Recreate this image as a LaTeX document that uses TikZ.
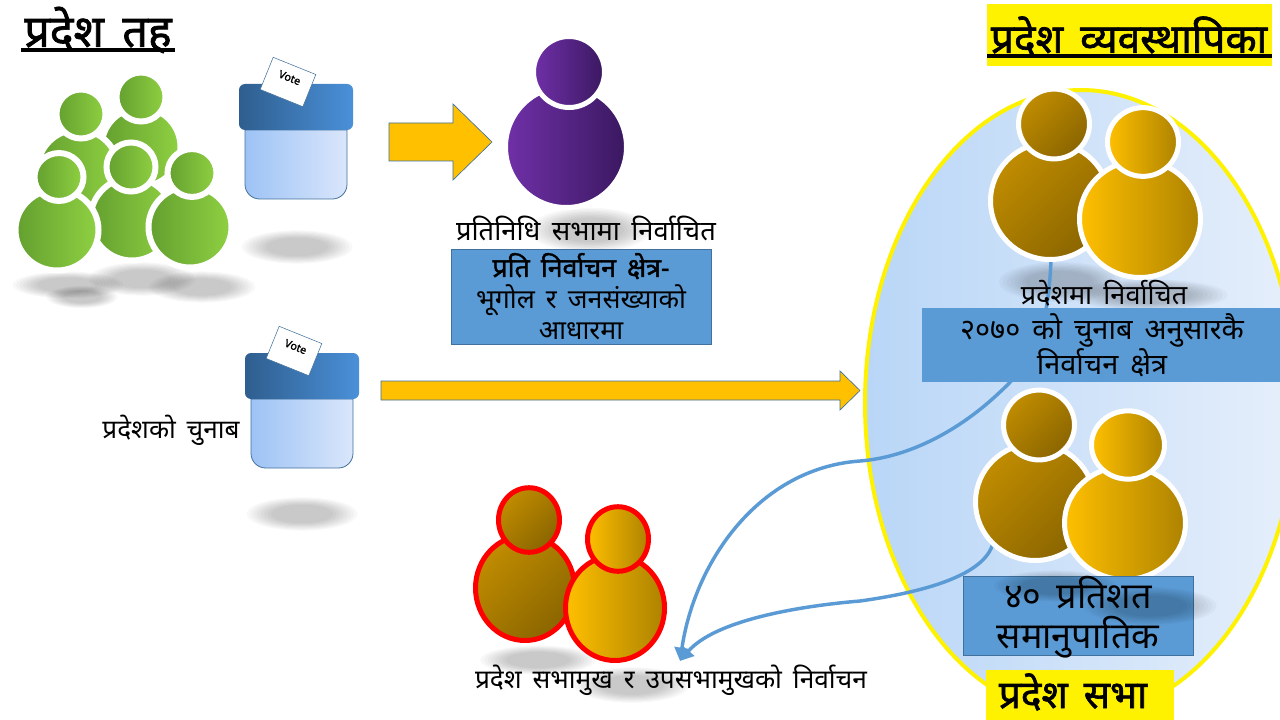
\documentclass[tikz,border=0pt]{standalone}
\usepackage{fontspec}
\setmainfont[Script=Devanagari,WordSpace=1.6,AutoFakeBold=1.6]{Noto Sans}
\usepackage{tikz}
\usetikzlibrary{arrows.meta}

\definecolor{boxblue}{HTML}{5B9BD5}
\definecolor{edgeblue}{HTML}{41719C}
\definecolor{sunny}{HTML}{FFC000}
\definecolor{leafdark}{HTML}{639F2F}
\definecolor{leaflight}{HTML}{8FD142}
\definecolor{plumlight}{HTML}{7030A8}
\definecolor{plumdark}{HTML}{3A1860}
\definecolor{golddark}{HTML}{C08C00}
\definecolor{goldmid}{HTML}{8A6500}
\definecolor{goldend}{HTML}{AD8200}
\definecolor{lidleft}{HTML}{2F5E8E}
\definecolor{lidright}{HTML}{4A90D9}
\definecolor{binleft}{HTML}{9DC3F5}
\definecolor{binright}{HTML}{DAE6FB}
\definecolor{ovalleft}{HTML}{B9D6F7}
\definecolor{ovalright}{HTML}{E6EFFB}

\tikzset{
  greenman/.style={left color=leafdark,right color=leaflight,draw=white,line width=4.5pt},
  purpleman/.style={left color=plumlight,right color=plumdark,draw=white,line width=3.75pt},
  darkman/.style={top color=golddark,bottom color=goldmid,shading angle=45,draw=#1,line width=3.75pt},
  lightman/.style={left color=sunny,right color=goldend,draw=#1,line width=3.75pt},
  tag/.style={fill=boxblue,align=center,inner sep=0pt},
  yellowbar/.style={fill=yellow,inner sep=0pt},
  votecard/.style={draw=edgeblue,fill=white,rotate=-22,minimum width=34.5pt,minimum height=26pt,inner sep=0pt,font=\fontsize{8}{8}\selectfont\bfseries},
  bigarrow/.style={fill=sunny,draw=edgeblue,line width=.5pt},
  link/.style={draw=boxblue,line width=2.6pt}
}

\newcommand{\softshadow}[4]{
  \foreach \k in {1,...,8}
    \fill [black,opacity=.026] (#1,#2) ellipse [x radius={#3*(.55+.07*\k)},y radius={#4*(.55+.07*\k)}];
}
\newcommand{\person}[8]{
  \path [#1] (#5,#6) ellipse [x radius={#7+2.5},y radius={#8+2.5}];
  \path [#1] (#2,#3) ellipse [x radius={#4+2.5},y radius={#4*#8/#7+2.5}];
}
\newcommand{\votebox}[3]{
  \begin{scope}[shift={(#2,#3)}]
    \path [left color=binleft,right color=binright,draw=edgeblue,line width=.6pt]
      (6,46) [rounded corners=11pt] -- (6,115) -- (108,115) [sharp corners] -- (108,46) -- cycle;
    \path [left color=lidleft,right color=lidright,rounded corners=4.5pt] (0,0) rectangle (114,46);
    \node [votecard] (#1) at (49,-2) {\raisebox{7pt}{Vote}};
  \end{scope}
}

\begin{document}
\begin{tikzpicture}
  [x=.75pt,y=-.75pt]
  \clip (0,0) rectangle (1280,720);
  \fill [white] (0,0) rectangle (1280,720);

  \foreach \x/\y/\rx/\ry in {68/285/50/12,82/297/32/10,142/279/48/15,202/287/48/14,
      297/247/50/15,302/514/50/15,590/230/55/20,538/660/52/13,632/685/52/16}
    {\softshadow{\x}{\y}{\rx}{\ry}}

  \person{greenman}{141}{97}{22}{141}{147}{37}{37}
  \person{greenman}{81}{114}{22}{78}{170}{38}{38}
  \person{greenman}{131}{167}{22}{132}{219}{39}{39}
  \person{greenman}{59}{177}{22}{57}{230}{39}{38}
  \person{greenman}{192}{173}{22}{190}{227}{39}{38}

  \votebox{card1}{239}{84}
  \votebox{card2}{245}{353}

  \path [bigarrow] (389,123) -- (453,123) -- (453,104) -- (492,142) -- (453,180) -- (453,161) -- (389,161) -- cycle;
  \path [bigarrow] (381,381) -- (840,381) -- (840,371) -- (860,390.5) -- (840,410) -- (840,400) -- (381,400) -- cycle;

  \person{purpleman}{569}{72}{33}{566}{147}{58}{58}

  \node [font=\fontsize{20.5}{24}\selectfont] (elected) at (586,228) {प्रतिनिधि सभामा निर्वाचित};
  \node [tag,draw=edgeblue,minimum width=195pt,minimum height=71pt,font=\fontsize{20}{23.5}\selectfont] (basis) at (581,296.5)
    {\textbf{प्रति निर्वाचन क्षेत्र-}\\भूगोल र जनसंख्याको\\आधारमा};
  \node [font=\fontsize{19.6}{22}\selectfont] (poll) at (171,430) {प्रदेशको चुनाब};

  \node [font=\fontsize{33.5}{36}\selectfont\bfseries] (title) at (98,30) {प्रदेश तह};
  \draw [line width=3pt] (21,50) -- (175,50);

  \fill [yellowbar] (987,4) rectangle (1272,66);
  \node [font=\fontsize{30.5}{34}\selectfont\bfseries] (house) at (1129,36) {प्रदेश व्यवस्थापिका};
  \draw [line width=3pt] (987,56) -- (1272,56);

  \path [left color=ovalleft,right color=ovalright,draw=yellow,line width=3pt]
    (1081,403) ellipse [x radius=216,y radius=313];

  \coordinate (upper) at (1051,260);
  \coordinate (lower) at (993,543);
  \coordinate (speaker) at (680,661);

  \softshadow{1060}{282}{55}{18}
  \softshadow{1150}{295}{70}{14}

  \draw [link,-{Triangle[length=10pt,width=11pt]}] (upper) .. controls (1048,330) and (1035,360) .. (1000,392)
    .. controls (960,430) and (910,457) .. (860,461) .. controls (760,468) and (695,560) .. (speaker);
  \draw [link,-{Triangle[length=10pt,width=11pt]}] (lower) .. controls (985,575) and (925,592) .. (860,601)
    .. controls (800,606) and (715,620) .. (speaker);

  \person{darkman=white}{1054}{124}{33}{1050}{201}{57}{56}
  \person{lightman=white}{1143}{142}{33}{1140}{219}{58}{56}

  \node [font=\fontsize{20.3}{22}\selectfont] (chosen) at (1104,293) {प्रदेशमा निर्वाचित};
  \node [tag,minimum width=270pt,minimum height=55.5pt,font=\fontsize{21.7}{24}\selectfont] (rule) at (1102,345)
    {२०७० को चुनाब अनुसारकै\\निर्वाचन क्षेत्र};

  \person{darkman=white}{1039}{425}{33}{1035}{502}{57}{56}
  \person{lightman=white}{1128}{445}{34}{1125}{523}{58}{54}

  \path [fill=boxblue,draw=edgeblue,line width=.6pt] (963,576) rectangle (1193,655);
  \softshadow{1055}{586}{55}{14}
  \softshadow{1150}{606}{60}{17}
  \node [align=center,font=\fontsize{27}{30}\selectfont] (share) at (1078,617) {४० प्रतिशत\\समानुपातिक};

  \fill [yellowbar] (986,670) rectangle (1174,720);
  \node [font=\fontsize{29}{32}\selectfont\bfseries] (assembly) at (1073,692) {प्रदेश सभा};

  \person{darkman=red}{529}{520}{28}{525}{588}{47}{50}
  \person{lightman=red}{618}{539}{28}{615}{608}{47}{50}

  \node [font=\fontsize{19.7}{22}\selectfont] (vote) at (671,680) {प्रदेश सभामुख र उपसभामुखको निर्वाचन};
\end{tikzpicture}
\end{document}
